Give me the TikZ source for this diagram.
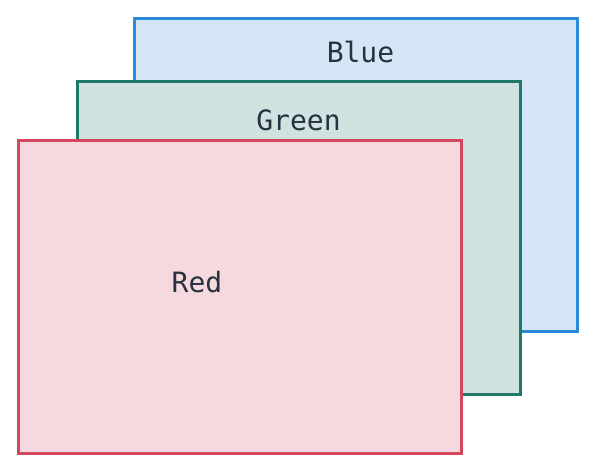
\documentclass[tikz,border=0pt]{standalone}
\usepackage{fontspec}
\setmonofont{DejaVu Sans Mono}
\usepackage{xcolor}
\usetikzlibrary{positioning}
\definecolor{bluestroke}{HTML}{2B8AD8}
\definecolor{bluefill}{HTML}{D4E6F5}
\definecolor{greenstroke}{HTML}{207868}
\definecolor{greenfill}{HTML}{D1E3E1}
\definecolor{redstroke}{HTML}{D4485E}
\definecolor{redfill}{HTML}{F6D9DE}
\definecolor{labeltext}{HTML}{26323F}

\begin{document}
\begin{tikzpicture}[x=1pt,y=-1pt,
    layer/.style={rectangle,draw,line width=3pt,minimum width=443pt,minimum height=313pt,inner sep=0pt},
    layerlabel/.style={anchor=base,text=labeltext,font=\ttfamily\fontsize{28}{30}\selectfont,inner sep=0pt}]
    \useasboundingbox (0,0) rectangle (606,472);
    % back to front
    \node[layer,draw=bluestroke,fill=bluefill] (blue) at (356,174.5) {};
    \node[layerlabel] (bluelabel) at (360.5,62) {Blue};
    \node[layer,draw=greenstroke,fill=greenfill] (green) at (299,237.5) {};
    \node[layerlabel] (greenlabel) at (298.5,130) {Green};
    \node[layer,draw=redstroke,fill=redfill] (red) at (239.5,296.5) {};
    \node[layerlabel] (redlabel) at (197,292.5) {Red};
\end{tikzpicture}
\end{document}
